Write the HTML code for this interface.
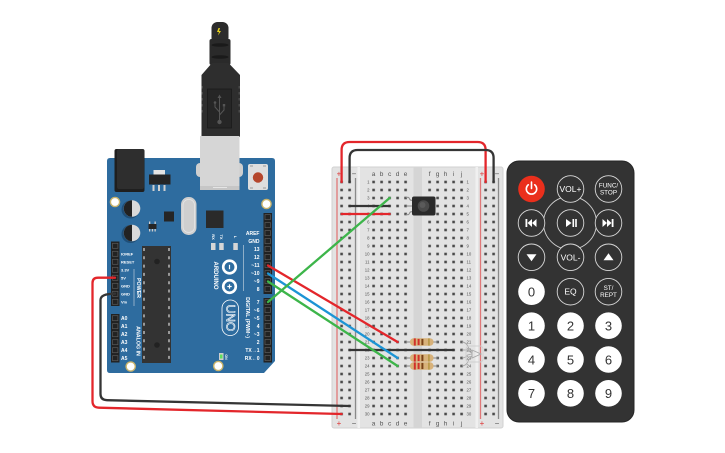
<!DOCTYPE html>
<html><head><meta charset="utf-8"><style>
html,body{margin:0;padding:0;background:#fff;}
svg{display:block;font-family:"Liberation Sans",sans-serif;}
</style></head><body>
<svg width="725" height="453" viewBox="0 0 725 453" xmlns="http://www.w3.org/2000/svg">
<defs>
<pattern id="holes" x="1.6" y="2" width="8" height="8" patternUnits="userSpaceOnUse">
<rect x="2.7" y="2.7" width="2.6" height="2.6" fill="#4a4a4a"/>
</pattern>
</defs>

<!-- ================= BREADBOARD ================= -->
<rect x="332" y="167" width="171" height="261" rx="2" fill="#e3e3e3" stroke="#d2d2d2" stroke-width="1"/>
<rect x="357.5" y="167" width="2.5" height="261" fill="#f0f0f0"/>
<rect x="475.5" y="167" width="2.5" height="261" fill="#f0f0f0"/>
<rect x="413.5" y="167" width="8.5" height="261" fill="#d5d5d5"/>
<line x1="337" y1="178" x2="337" y2="419" stroke="#e07878" stroke-width="1.3"/>
<line x1="355.5" y1="178" x2="355.5" y2="419" stroke="#8a8a8a" stroke-width="1.3"/>
<line x1="480.5" y1="178" x2="480.5" y2="419" stroke="#e07878" stroke-width="1.3"/>
<line x1="498.5" y1="178" x2="498.5" y2="419" stroke="#8a8a8a" stroke-width="1.3"/>
<!-- holes -->
<rect x="337.6" y="178" width="16" height="240" fill="url(#holes)"/>
<rect x="481.6" y="178" width="16" height="240" fill="url(#holes)"/>
<rect x="369.6" y="178" width="40" height="240" fill="url(#holes)"/>
<rect x="425.6" y="178" width="40" height="240" fill="url(#holes)"/>
<!-- header letters -->
<g font-size="6.5" fill="#555" text-anchor="middle">
<text x="373.6" y="176">a</text><text x="381.6" y="176">b</text><text x="389.6" y="176">c</text><text x="397.6" y="176">d</text><text x="405.6" y="176">e</text>
<text x="429.6" y="176">f</text><text x="437.6" y="176">g</text><text x="445.6" y="176">h</text><text x="453.6" y="176">i</text><text x="461.6" y="176">j</text>
<text x="373.6" y="425.5">a</text><text x="381.6" y="425.5">b</text><text x="389.6" y="425.5">c</text><text x="397.6" y="425.5">d</text><text x="405.6" y="425.5">e</text>
<text x="429.6" y="425.5">f</text><text x="437.6" y="425.5">g</text><text x="445.6" y="425.5">h</text><text x="453.6" y="425.5">i</text><text x="461.6" y="425.5">j</text>
</g>
<g font-size="8" text-anchor="middle">
<text x="339" y="176.5" fill="#d33">+</text><text x="354" y="176.5" fill="#555">−</text>
<text x="482" y="176.5" fill="#d33">+</text><text x="497" y="176.5" fill="#555">−</text>
<text x="339" y="426" fill="#d33">+</text><text x="354" y="426" fill="#555">−</text>
<text x="482" y="426" fill="#d33">+</text><text x="497" y="426" fill="#555">−</text>
</g>
<!-- row numbers -->
<g font-size="4.3" fill="#555" text-anchor="end">
<text x="369.5" y="183.5">1</text><text x="369.5" y="191.5">2</text><text x="369.5" y="199.5">3</text><text x="369.5" y="207.5">4</text><text x="369.5" y="215.5">5</text>
<text x="369.5" y="223.5">6</text><text x="369.5" y="231.5">7</text><text x="369.5" y="239.5">8</text><text x="369.5" y="247.5">9</text><text x="369.5" y="255.5">10</text>
<text x="369.5" y="263.5">11</text><text x="369.5" y="271.5">12</text><text x="369.5" y="279.5">13</text><text x="369.5" y="287.5">14</text><text x="369.5" y="295.5">15</text>
<text x="369.5" y="303.5">16</text><text x="369.5" y="311.5">17</text><text x="369.5" y="319.5">18</text><text x="369.5" y="327.5">19</text><text x="369.5" y="335.5">20</text>
<text x="369.5" y="343.5">21</text><text x="369.5" y="351.5">22</text><text x="369.5" y="359.5">23</text><text x="369.5" y="367.5">24</text><text x="369.5" y="375.5">25</text>
<text x="369.5" y="383.5">26</text><text x="369.5" y="391.5">27</text><text x="369.5" y="399.5">28</text><text x="369.5" y="407.5">29</text><text x="369.5" y="415.5">30</text>
</g>
<g font-size="4.3" fill="#555" text-anchor="start">
<text x="466.5" y="183.5">1</text><text x="466.5" y="191.5">2</text><text x="466.5" y="199.5">3</text><text x="466.5" y="207.5">4</text><text x="466.5" y="215.5">5</text>
<text x="466.5" y="223.5">6</text><text x="466.5" y="231.5">7</text><text x="466.5" y="239.5">8</text><text x="466.5" y="247.5">9</text><text x="466.5" y="255.5">10</text>
<text x="466.5" y="263.5">11</text><text x="466.5" y="271.5">12</text><text x="466.5" y="279.5">13</text><text x="466.5" y="287.5">14</text><text x="466.5" y="295.5">15</text>
<text x="466.5" y="303.5">16</text><text x="466.5" y="311.5">17</text><text x="466.5" y="319.5">18</text><text x="466.5" y="327.5">19</text><text x="466.5" y="335.5">20</text>
<text x="466.5" y="343.5">21</text><text x="466.5" y="351.5">22</text><text x="466.5" y="359.5">23</text><text x="466.5" y="367.5">24</text><text x="466.5" y="375.5">25</text>
<text x="466.5" y="383.5">26</text><text x="466.5" y="391.5">27</text><text x="466.5" y="399.5">28</text><text x="466.5" y="407.5">29</text><text x="466.5" y="415.5">30</text>
</g>

<!-- IR receiver -->
<g fill="none" stroke="#8a8a8a" stroke-width="1">
<path d="M405.6,198 q3,-2 4,1 q1,2 3,1"/>
<path d="M405.6,206 h6.5"/>
<path d="M405.6,214 q3,2 4,-1 q1,-2 3,-1"/>
</g>
<rect x="412" y="196.5" width="23.5" height="19" rx="2" fill="#2a2a2a"/>
<circle cx="423.5" cy="206" r="5.8" fill="#4a4a4a"/>
<circle cx="422.5" cy="205" r="3" fill="#5a5a5a"/>

<!-- RGB LED outline -->
<g fill="none" stroke="#a8a8a8" stroke-width="0.9">
<path d="M461.6,342 q5,0 7,6 l4,4"/>
<path d="M461.6,350 h6 l4,3"/>
<path d="M461.6,358 q4,0 6,-3 l4,-1"/>
<path d="M461.6,366 q5,0 7,-6 l3,-4"/>
<path d="M472,350 l9,4 l-9,4 z"/>
<rect x="466" y="346" width="17" height="16" rx="3" stroke="#cfcfcf"/>
</g>

<!-- resistors -->
<g>
<line x1="405.6" y1="342" x2="437.6" y2="342" stroke="#9a9a9a" stroke-width="1.3"/>
<rect x="410" y="338.2" width="23.5" height="7.6" rx="3.6" fill="#d8b27a"/>
<rect x="413.8" y="338.4" width="2" height="7.2" fill="#d0302a"/><rect x="417.6" y="338.9" width="2" height="6.2" fill="#d0302a"/><rect x="421.4" y="338.9" width="2" height="6.2" fill="#7a4318"/><rect x="428" y="338.4" width="1.8" height="7.2" fill="#b99a4a"/>
<line x1="405.6" y1="358" x2="437.6" y2="358" stroke="#9a9a9a" stroke-width="1.3"/>
<rect x="410" y="354.2" width="23.5" height="7.6" rx="3.6" fill="#d8b27a"/>
<rect x="413.8" y="354.4" width="2" height="7.2" fill="#d0302a"/><rect x="417.6" y="354.9" width="2" height="6.2" fill="#d0302a"/><rect x="421.4" y="354.9" width="2" height="6.2" fill="#7a4318"/><rect x="428" y="354.4" width="1.8" height="7.2" fill="#b99a4a"/>
<line x1="405.6" y1="366" x2="437.6" y2="366" stroke="#9a9a9a" stroke-width="1.3"/>
<rect x="410" y="362.2" width="23.5" height="7.6" rx="3.6" fill="#d8b27a"/>
<rect x="413.8" y="362.4" width="2" height="7.2" fill="#d0302a"/><rect x="417.6" y="362.9" width="2" height="6.2" fill="#d0302a"/><rect x="421.4" y="362.9" width="2" height="6.2" fill="#7a4318"/><rect x="428" y="362.4" width="1.8" height="7.2" fill="#b99a4a"/>
</g>

<!-- breadboard wires -->
<g fill="none" stroke-width="2.3" stroke-linecap="round" stroke-linejoin="round">
<path d="M341.6,182 V150 Q341.6,142 349.6,142 H477.6 Q485.6,142 485.6,150 V182" stroke="#e3262b"/>
<path d="M349.6,182 V158 Q349.6,150 357.6,150 H485.6 Q493.6,150 493.6,158 V182" stroke="#353535"/>
<path d="M349.6,206 H389.6" stroke="#353535"/>
<path d="M341.6,214 H389.6" stroke="#e3262b"/>
<path d="M349.6,350 H453.6" stroke="#353535"/>
</g>

<!-- ================= USB CABLE ================= -->
<g>
<rect x="211.5" y="22" width="17" height="22" rx="6" fill="#2c2c2c"/>
<path d="M218.5,28 l-1.5,4 h2 l-1,3.5 l3,-4.5 h-2 l1,-3z" fill="#e8d21c"/>
<rect x="209.5" y="39" width="21" height="26" rx="2" fill="#2a2a2a"/>
<ellipse cx="220" cy="45" rx="8.5" ry="1.8" fill="#1a1a1a"/>
<ellipse cx="220" cy="57" rx="8.5" ry="1.8" fill="#1a1a1a"/>
<path d="M212,63 H228.5 L240,75 V137 H201.5 V75 Z" fill="#2e2e2e"/>
<g fill="#4a4a4a">
<rect x="201.5" y="86" width="1.5" height="2.5"/><rect x="201.5" y="92" width="1.5" height="2.5"/><rect x="201.5" y="98" width="1.5" height="2.5"/><rect x="201.5" y="104" width="1.5" height="2.5"/><rect x="201.5" y="110" width="1.5" height="2.5"/>
<rect x="238.5" y="86" width="1.5" height="2.5"/><rect x="238.5" y="92" width="1.5" height="2.5"/><rect x="238.5" y="98" width="1.5" height="2.5"/><rect x="238.5" y="104" width="1.5" height="2.5"/><rect x="238.5" y="110" width="1.5" height="2.5"/>
</g>
<rect x="207.5" y="89" width="24" height="39" fill="#262626" stroke="#1b1b1b" stroke-width="0.8"/>
<g stroke="#555" stroke-width="1" fill="none">
<line x1="219.5" y1="97" x2="219.5" y2="121"/>
<path d="M219.5,112 L215,107 V103"/>
<path d="M219.5,115 L224,110 V106"/>
</g>
<path d="M217.5,98 l2,-3.5 l2,3.5z" fill="#555"/>
<circle cx="219.5" cy="122" r="2.2" fill="#555"/>
<circle cx="215" cy="102.5" r="1.3" fill="#555"/>
<rect x="222.8" y="104" width="2.4" height="2.4" fill="#555"/>
</g>

<!-- ================= ARDUINO ================= -->
<path d="M110,158 H272 Q275,158 275,161 V361 L264,373 H110 Q107,373 107,370 V161 Q107,158 110,158 Z" fill="#2e6c9f"/>
<!-- USB port -->
<rect x="196" y="163" width="47" height="14" rx="4" fill="#cfcfcf"/>
<rect x="200" y="136" width="39.5" height="54" fill="#d6d6d6"/>
<rect x="200" y="186" width="39.5" height="4" fill="#c6c6c6"/>
<line x1="213" y1="187.5" x2="227" y2="187.5" stroke="#eee" stroke-width="0.8"/>
<!-- reset -->
<rect x="248" y="164" width="20" height="26" rx="2" fill="#dedede"/>
<rect x="250" y="165" width="3" height="2" fill="#bbb"/><rect x="263" y="165" width="3" height="2" fill="#bbb"/>
<rect x="250" y="187" width="3" height="2" fill="#bbb"/><rect x="263" y="187" width="3" height="2" fill="#bbb"/>
<circle cx="258" cy="177.5" r="5.2" fill="#b5462c"/>
<!-- power jack -->
<rect x="114.5" y="149" width="30" height="43" rx="2" fill="#1f1f1f"/>
<rect x="117" y="149" width="27" height="40" rx="2" fill="#2e2e2e"/>
<!-- regulator -->
<rect x="153.5" y="170" width="11.5" height="5" fill="#e4e4e4"/>
<rect x="149" y="174.5" width="21.5" height="10" fill="#252525"/>
<rect x="152.5" y="185" width="2" height="6" fill="#cfcfcf"/><rect x="158" y="185" width="2" height="6" fill="#cfcfcf"/><rect x="163.5" y="185" width="2" height="6" fill="#cfcfcf"/>
<!-- mounting holes -->
<g fill="#fff" stroke="#c9b36a" stroke-width="1.4">
<circle cx="115" cy="202" r="4.6"/><circle cx="266.5" cy="204" r="4.6"/>
<circle cx="130.7" cy="366.5" r="4.6"/><circle cx="218.3" cy="366" r="4.6"/>
</g>
<!-- capacitors -->
<g>
<circle cx="130.5" cy="209.5" r="9" fill="#1f4f78"/>
<circle cx="132" cy="208.5" r="8.3" fill="#d9d9d9"/>
<path d="M132,200.2 A8.3,8.3 0 0 0 132,216.8 Z" fill="#222"/>
<circle cx="130.5" cy="234" r="9" fill="#1f4f78"/>
<circle cx="132" cy="233" r="8.3" fill="#d9d9d9"/>
<path d="M132,224.7 A8.3,8.3 0 0 0 132,241.3 Z" fill="#222"/>
</g>
<!-- crystal -->
<rect x="181" y="197" width="15.5" height="38" rx="7.5" fill="#cfcfcf"/>
<rect x="183" y="199.5" width="11.5" height="33" rx="5.5" fill="none" stroke="#e6e6e6" stroke-width="0.8"/>
<!-- small chips -->
<rect x="164" y="211.5" width="10" height="10" fill="#252525"/>
<rect x="148.5" y="224" width="8" height="5" fill="#252525"/>
<rect x="149" y="221.5" width="1.3" height="2.5" fill="#ccc"/><rect x="154.5" y="221.5" width="1.3" height="2.5" fill="#ccc"/>
<rect x="149" y="229" width="1.3" height="2.5" fill="#ccc"/><rect x="151.8" y="229" width="1.3" height="2.5" fill="#ccc"/><rect x="154.5" y="229" width="1.3" height="2.5" fill="#ccc"/>
<rect x="206" y="210.5" width="17.5" height="17.5" fill="#2a2a2a"/>
<!-- main chip -->
<rect x="142" y="246" width="29" height="117" fill="#333"/>
<line x1="144" y1="248" x2="144" y2="361" stroke="#ddd" stroke-width="1.2" stroke-dasharray="3 5.3"/>
<line x1="169" y1="248" x2="169" y2="361" stroke="#ddd" stroke-width="1.2" stroke-dasharray="3 5.3"/>
<circle cx="157" cy="261.5" r="2.8" fill="#222"/>
<circle cx="157" cy="345" r="2.8" fill="#222"/>

<!-- headers -->
<g>
<rect x="111" y="241.5" width="8.5" height="64.5" fill="#222"/>
<rect x="111" y="314" width="8.5" height="48.5" fill="#222"/>
<rect x="263.5" y="213" width="8.5" height="81" fill="#222"/>
<rect x="263.5" y="298" width="8.5" height="64.5" fill="#222"/>
<g fill="none" stroke="#5a5a5a" stroke-width="0.7">
<rect x="112.5" y="243.3" width="5.4" height="5"/><rect x="112.5" y="251.3" width="5.4" height="5"/><rect x="112.5" y="259.3" width="5.4" height="5"/><rect x="112.5" y="267.3" width="5.4" height="5"/>
<rect x="112.5" y="275.3" width="5.4" height="5"/><rect x="112.5" y="283.3" width="5.4" height="5"/><rect x="112.5" y="291.3" width="5.4" height="5"/><rect x="112.5" y="299.3" width="5.4" height="5"/>
<rect x="112.5" y="315.7" width="5.4" height="5"/><rect x="112.5" y="323.7" width="5.4" height="5"/><rect x="112.5" y="331.7" width="5.4" height="5"/><rect x="112.5" y="339.7" width="5.4" height="5"/><rect x="112.5" y="347.7" width="5.4" height="5"/><rect x="112.5" y="355.7" width="5.4" height="5"/>
<rect x="265" y="214.6" width="5.4" height="5"/><rect x="265" y="222.6" width="5.4" height="5"/><rect x="265" y="230.6" width="5.4" height="5"/><rect x="265" y="238.6" width="5.4" height="5"/><rect x="265" y="246.6" width="5.4" height="5"/>
<rect x="265" y="254.6" width="5.4" height="5"/><rect x="265" y="262.6" width="5.4" height="5"/><rect x="265" y="270.6" width="5.4" height="5"/><rect x="265" y="278.6" width="5.4" height="5"/><rect x="265" y="286.6" width="5.4" height="5"/>
<rect x="265" y="299.5" width="5.4" height="5"/><rect x="265" y="307.5" width="5.4" height="5"/><rect x="265" y="315.5" width="5.4" height="5"/><rect x="265" y="323.5" width="5.4" height="5"/>
<rect x="265" y="331.5" width="5.4" height="5"/><rect x="265" y="339.5" width="5.4" height="5"/><rect x="265" y="347.5" width="5.4" height="5"/><rect x="265" y="355.5" width="5.4" height="5"/>
</g>
</g>

<!-- labels -->
<g fill="#fff" font-size="4" font-weight="bold">
<text x="121" y="255.5">IOREF</text><text x="121" y="263.5">RESET</text><text x="121" y="271.5">3.3V</text><text x="121" y="279.5">5V</text>
<text x="121" y="287.5">GND</text><text x="121" y="295.5">GND</text><text x="121" y="303.5">Vin</text>
</g>
<g fill="#fff" font-size="5" font-weight="bold">
<text x="121" y="320">A0</text><text x="121" y="328">A1</text><text x="121" y="336">A2</text><text x="121" y="344">A3</text><text x="121" y="352">A4</text><text x="121" y="360">A5</text>
</g>
<line x1="134" y1="269" x2="134" y2="306" stroke="#cfd9e3" stroke-width="0.6"/>
<text transform="translate(138,288) rotate(90)" fill="#fff" font-size="5.3" font-weight="bold" text-anchor="middle" dominant-baseline="central">POWER</text>
<text transform="translate(137.5,341) rotate(90)" fill="#fff" font-size="5.3" font-weight="bold" text-anchor="middle" dominant-baseline="central">ANALOG IN</text>
<g fill="#fff" font-size="5" font-weight="bold" text-anchor="end">
<text x="259.5" y="235">AREF</text><text x="259.5" y="243">GND</text><text x="259.5" y="251">13</text><text x="259.5" y="259">12</text>
<text x="259.5" y="267">~11</text><text x="259.5" y="275">~10</text><text x="259.5" y="283">~9</text><text x="259.5" y="291">8</text>
<text x="259.5" y="304">7</text><text x="259.5" y="312">~6</text><text x="259.5" y="320">~5</text><text x="259.5" y="328">4</text>
<text x="259.5" y="336">~3</text><text x="259.5" y="344">2</text><text x="259.5" y="352">TX→1</text><text x="259.5" y="360">RX←0</text>
</g>
<line x1="243.3" y1="245" x2="243.3" y2="291" stroke="#cfd9e3" stroke-width="0.6"/>
<text transform="translate(247,317.5) rotate(90)" fill="#fff" font-size="5.2" font-weight="bold" text-anchor="middle" dominant-baseline="central">DIGITAL (PWM~)</text>
<text transform="translate(215,275.5) rotate(90)" fill="#fff" font-size="6" font-weight="bold" text-anchor="middle" dominant-baseline="central">ARDUINO</text>
<!-- infinity logo -->
<g fill="none" stroke="#fff" stroke-width="2.6">
<circle cx="229.5" cy="267" r="6.3"/>
<circle cx="229.5" cy="286.5" r="6.3"/>
</g>
<line x1="229.5" y1="264.8" x2="229.5" y2="269.2" stroke="#fff" stroke-width="1.2"/>
<line x1="227.3" y1="286.5" x2="231.7" y2="286.5" stroke="#fff" stroke-width="1.2"/>
<line x1="229.5" y1="284.3" x2="229.5" y2="288.7" stroke="#fff" stroke-width="1.2"/>
<!-- UNO -->
<rect x="222" y="300" width="16.5" height="35.5" rx="8.2" fill="none" stroke="#fff" stroke-width="0.8"/>
<text transform="translate(230.5,318) rotate(90)" fill="none" stroke="#fff" stroke-width="0.6" font-size="12" text-anchor="middle" dominant-baseline="central">UNO</text>
<!-- TX RX L -->
<g fill="#fff" font-size="4" font-weight="bold">
<text transform="translate(213.5,237) rotate(90)" text-anchor="middle" dominant-baseline="central">RX</text>
<text transform="translate(221.5,237) rotate(90)" text-anchor="middle" dominant-baseline="central">TX</text>
<text transform="translate(235.5,237) rotate(90)" text-anchor="middle" dominant-baseline="central">L</text>
</g>
<rect x="211" y="243" width="4.5" height="7" fill="#d6d6d6"/>
<rect x="219.2" y="243" width="4.5" height="7" fill="#d6d6d6"/>
<rect x="233.3" y="243" width="4.5" height="7" fill="#d6d6d6"/>
<rect x="219" y="353" width="4.5" height="7" fill="#cfcfcf"/>
<rect x="220" y="354.5" width="2.5" height="4" fill="#5ee05e"/>
<text transform="translate(226,357) rotate(90)" fill="#fff" font-size="3.5" font-weight="bold" text-anchor="middle" dominant-baseline="central">ON</text>

<!-- ================= Arduino wires ================= -->
<g fill="none" stroke-width="2.3" stroke-linecap="round" stroke-linejoin="round">
<path d="M115,277.7 H98 Q92.5,277.7 92.5,283 V401 Q92.5,407.5 99,407.7 L341.6,414" stroke="#e3262b"/>
<path d="M115,293.7 Q100.5,293.7 100.5,300 V394 Q100.5,400 107,400.2 L349.6,406" stroke="#353535"/>
<path d="M268,265.5 L397.6,342" stroke="#e3262b"/>
<path d="M268,273.5 L397.6,358" stroke="#1d94d5"/>
<path d="M268,281.5 L397.6,366" stroke="#3db54a"/>
<path d="M268,302 L389.6,198" stroke="#3db54a"/>
</g>

<!-- ================= REMOTE ================= -->
<rect x="507" y="161" width="127" height="261" rx="12" fill="#333" stroke="#262626" stroke-width="1"/>
<circle cx="570" cy="223" r="26.5" fill="none" stroke="#cfcfcf" stroke-width="0.9"/>
<!-- row 1 -->
<circle cx="531.5" cy="189" r="13.3" fill="#ea2f1c"/>
<path d="M528.3,184.8 A5.2,5.2 0 1 0 534.7,184.8" fill="none" stroke="#fff" stroke-width="1.6" stroke-linecap="round"/>
<line x1="531.5" y1="182" x2="531.5" y2="188.5" stroke="#fff" stroke-width="1.6" stroke-linecap="round"/>
<g fill="#333" stroke="#d8d8d8" stroke-width="0.9">
<circle cx="570.5" cy="189" r="13.3"/><circle cx="608.5" cy="189" r="13.3"/>
<circle cx="531.5" cy="223" r="13.3"/><circle cx="570.5" cy="223" r="13.3"/><circle cx="608.5" cy="223" r="13.3"/>
<circle cx="531.5" cy="257.3" r="13.3"/><circle cx="570.5" cy="257.3" r="13.3"/><circle cx="608.5" cy="257.3" r="13.3"/>
<circle cx="570.5" cy="291.7" r="13.3"/><circle cx="608.5" cy="291.7" r="13.3"/>
</g>
<g fill="#fff" text-anchor="middle">
<text x="570.5" y="192" font-size="8.5">VOL+</text>
<text x="608.5" y="187.5" font-size="6.3">FUNC/</text><text x="608.5" y="194.5" font-size="6.3">STOP</text>
<text x="570.5" y="260.3" font-size="8.5">VOL-</text>
<text x="570.5" y="294.7" font-size="8.5">EQ</text>
<text x="608.5" y="290" font-size="6.3">ST/</text><text x="608.5" y="297" font-size="6.3">REPT</text>
</g>
<!-- transport icons -->
<g fill="#fff">
<rect x="525.5" y="219" width="1.8" height="8"/>
<path d="M527.5,223 l4.5,-4 v8z"/><path d="M532,223 l4.5,-4 v8z"/>
<path d="M566,219 l5.5,4 l-5.5,4z"/><rect x="572.5" y="219" width="1.6" height="8"/><rect x="575.2" y="219" width="1.6" height="8"/>
<path d="M602.5,219 l4.5,4 l-4.5,4z"/><path d="M607,219 l4.5,4 l-4.5,4z"/><rect x="611.7" y="219" width="1.8" height="8"/>
<path d="M526.5,254.3 h10 l-5,7z"/>
<path d="M603.5,260.3 h10 l-5,-7z"/>
</g>
<!-- number buttons -->
<g fill="#fff">
<circle cx="531.5" cy="291.7" r="13.3"/>
<circle cx="531.5" cy="325.7" r="13.3"/><circle cx="570.5" cy="325.7" r="13.3"/><circle cx="608.5" cy="325.7" r="13.3"/>
<circle cx="531.5" cy="359.5" r="13.3"/><circle cx="570.5" cy="359.5" r="13.3"/><circle cx="608.5" cy="359.5" r="13.3"/>
<circle cx="531.5" cy="393.3" r="13.3"/><circle cx="570.5" cy="393.3" r="13.3"/><circle cx="608.5" cy="393.3" r="13.3"/>
</g>
<g fill="#333" font-size="13" text-anchor="middle">
<text x="531.5" y="296.5">0</text>
<text x="531.5" y="330.5">1</text><text x="570.5" y="330.5">2</text><text x="608.5" y="330.5">3</text>
<text x="531.5" y="364.3">4</text><text x="570.5" y="364.3">5</text><text x="608.5" y="364.3">6</text>
<text x="531.5" y="398.1">7</text><text x="570.5" y="398.1">8</text><text x="608.5" y="398.1">9</text>
</g>
</svg>
</body></html>
